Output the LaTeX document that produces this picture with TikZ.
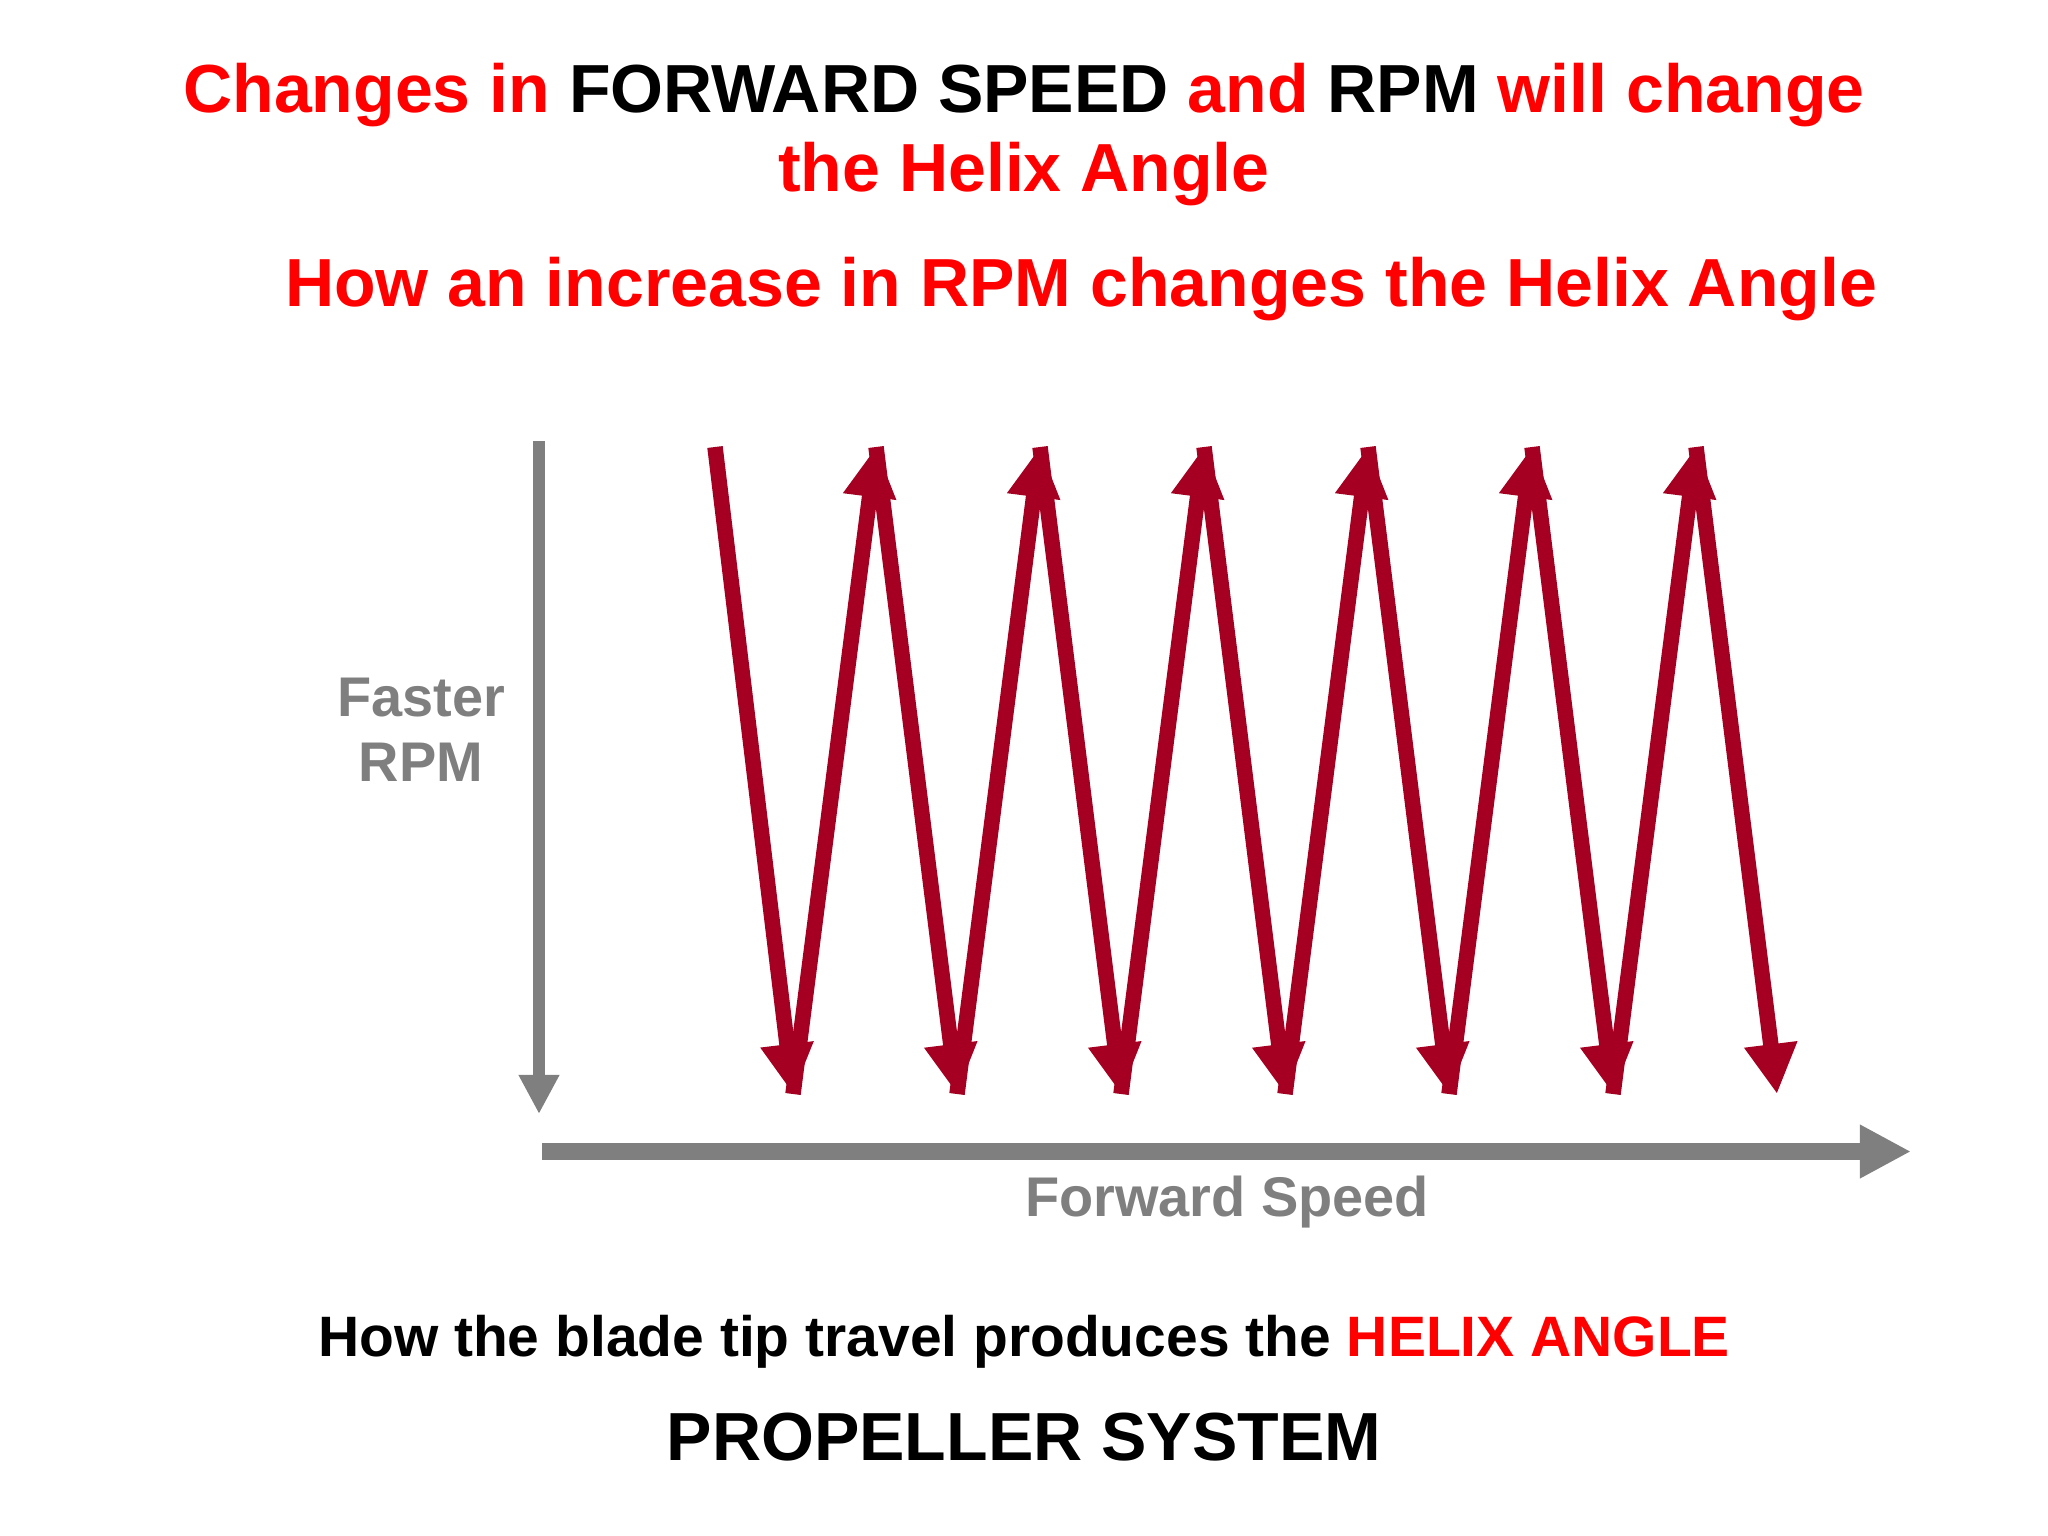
\documentclass[tikz,border=0pt]{standalone}
\usepackage{fontspec}
\setmainfont{Liberation Sans}
\usetikzlibrary{arrows.meta,positioning}
\definecolor{helixred}{RGB}{165,0,33}
\definecolor{axisgray}{RGB}{127,127,127}
\definecolor{textred}{RGB}{255,0,0}
\begin{document}
\begin{tikzpicture}[x=0.01cm, y=-0.01cm,
    every node/.style={inner sep=0pt, anchor=base},
    heading/.style={font=\fontsize{19.35}{23}\selectfont\bfseries},
    subline/.style={font=\fontsize{16.2}{19}\selectfont\bfseries},
    axislabel/.style={font=\fontsize{15.9}{18.5}\selectfont\bfseries, text=axisgray},
    zig/.style={draw=helixred, line width=0.155cm, -{Triangle[width=0.5cm, length=0.5cm]}},
    rpmaxis/.style={draw=axisgray, line width=0.125cm, -{Triangle[width=0.38cm, length=0.39cm]}},
    fwdaxis/.style={draw=axisgray, line width=0.17cm, -{Triangle[width=0.5cm, length=0.51cm]}}]
    \useasboundingbox (0,0) rectangle (2048,1536);
    % titles
    \node[heading] (title1) at (1024,112) {\textcolor{textred}{Changes in} FORWARD SPEED \textcolor{textred}{and} RPM \textcolor{textred}{will change}};
    \node[heading, text=textred] (title2) at (1024,191) {the Helix Angle};
    \node[heading, text=textred] (title3) at (1081,306) {How an increase in RPM changes the Helix Angle};
    % axes
    \coordinate (rpmtop) at (539,441);
    \coordinate (rpmtip) at (539,1114);
    \coordinate (fwdstart) at (542,1151.5);
    \coordinate (fwdtip) at (1911,1151.5);
    \draw[rpmaxis] (rpmtop) -- (rpmtip);
    \draw[fwdaxis] (fwdstart) -- (fwdtip);
    \node[axislabel] (faster) at (421,716) {Faster};
    \node[axislabel] (rpmlabel) at (421,781) {RPM};
    \node[axislabel] (fwdlabel) at (1227,1216) {Forward Speed};
    % blade tip path
    \coordinate (t0) at (715,447);
    \coordinate (b0) at (793,1094);
    \coordinate (t1) at (876,447);
    \coordinate (b1) at (957,1094);
    \coordinate (t2) at (1040,447);
    \coordinate (b2) at (1121,1094);
    \coordinate (t3) at (1204,447);
    \coordinate (b3) at (1285,1094);
    \coordinate (t4) at (1368,447);
    \coordinate (b4) at (1449,1094);
    \coordinate (t5) at (1532,447);
    \coordinate (b5) at (1613,1094);
    \coordinate (t6) at (1696,447);
    \coordinate (b6) at (1777,1094);
    \draw[zig] (t0) -- (b0);
    \draw[zig] (b0) -- (t1);
    \draw[zig] (t1) -- (b1);
    \draw[zig] (b1) -- (t2);
    \draw[zig] (t2) -- (b2);
    \draw[zig] (b2) -- (t3);
    \draw[zig] (t3) -- (b3);
    \draw[zig] (b3) -- (t4);
    \draw[zig] (t4) -- (b4);
    \draw[zig] (b4) -- (t5);
    \draw[zig] (t5) -- (b5);
    \draw[zig] (b5) -- (t6);
    \draw[zig] (t6) -- (b6);
    % captions
    \node[subline] (caption) at (1024,1356) {How the blade tip travel produces the \textcolor{textred}{HELIX ANGLE}};
    \node[heading] (system) at (1024,1460) {PROPELLER SYSTEM};
\end{tikzpicture}
\end{document}
